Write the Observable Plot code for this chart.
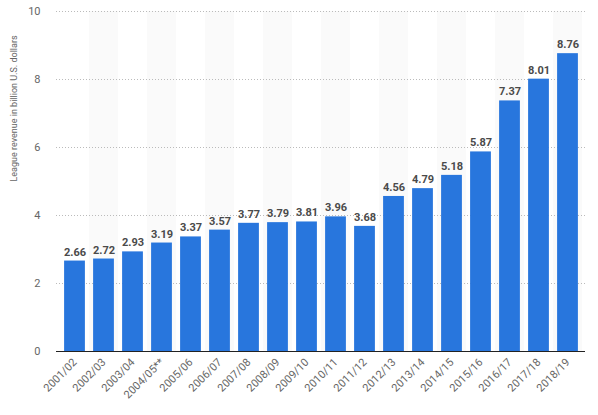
<!DOCTYPE html>
<html>
<head>
<meta charset="utf-8">
<script src="https://cdn.jsdelivr.net/npm/d3@7"></script>
<script src="https://cdn.jsdelivr.net/npm/@observablehq/plot@0.6"></script>
<style>
  body { margin: 0; background: #fff; }
</style>
</head>
<body>
<div id="vis"></div>
<script>
const seasons = ['2001/02','2002/03','2003/04','2004/05**','2005/06','2006/07','2007/08','2008/09','2009/10','2010/11','2011/12','2012/13','2013/14','2014/15','2015/16','2016/17','2017/18','2018/19']
const revenue = [2.66, 2.72, 2.93, 3.19, 3.37, 3.57, 3.77, 3.79, 3.81, 3.96, 3.68, 4.56, 4.79, 5.18, 5.87, 7.37, 8.01, 8.76]
const yTicks = [0, 2, 4, 6, 8, 10]

const data = seasons.map((s, i) => ({season: s, value: revenue[i], odd: i % 2 === 1}))
const bands = data.filter(d => d.odd)

let chart = Plot.plot({
  width: 598,
  height: 415,
  marginLeft: 56,
  marginRight: 13,
  marginTop: 11,
  marginBottom: 64,
  x: {domain: seasons, padding: 0, label: null},
  y: {domain: [0, 10], label: null},
  marks: [
    Plot.barY(bands, {x: 'season', y1: 0, y2: 10, fill: '#fafafa'}),
    Plot.ruleY(yTicks.filter(d => d > 0), {stroke: '#bbb', strokeDasharray: '1,2'}),
    Plot.barY(data, {x: 'season', y: 'value', fill: '#2876dd', insetLeft: 4.1, insetRight: 4.1}),
    Plot.text(data, {x: 'season', y: 'value', text: d => d.value.toFixed(2), dy: -9, fontWeight: 'bold', fontSize: 11, fill: '#4a4a4a'}),
    Plot.ruleY([0], {stroke: '#222', strokeWidth: 1.2}),
    Plot.axisY({ticks: yTicks, tickSize: 0, tickPadding: 16, fontSize: 11, color: '#666', label: null}),
    Plot.text(['League revenue in billion U.S. dollars'], {frameAnchor: 'left', dx: -42, rotate: -90, fontSize: 9, fill: '#666'}),
    Plot.axisX({tickSize: 0, tickRotate: -45, tickPadding: 9, fontSize: 11, color: '#666', label: null})
  ],
  style: {
    fontFamily: 'Roboto, "Open Sans", sans-serif',
    fontSize: 11,
    color: '#666',
    background: '#fff'
  }
})
d3.select('#vis').append(() => chart)
</script>
</body>
</html>
